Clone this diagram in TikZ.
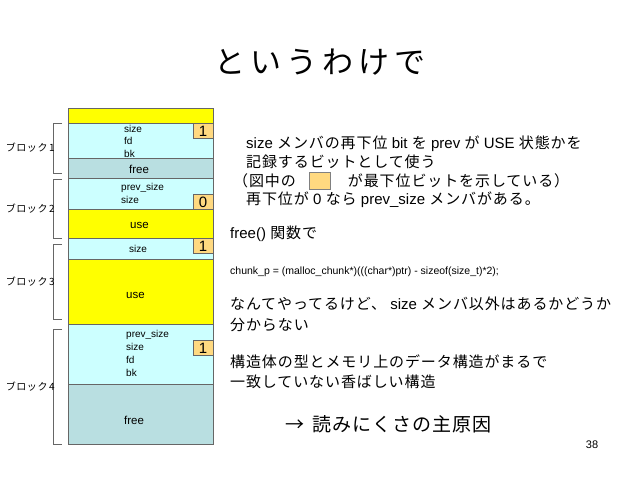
\documentclass[tikz,border=0pt]{standalone}
\usepackage{fontspec}
\setmainfont[LetterSpace=6]{Noto Sans CJK JP}
\newfontfamily\lat{Liberation Sans}
\definecolor{cy}{HTML}{CCFFFF}
\definecolor{fr}{HTML}{B9DFE1}
\definecolor{ye}{HTML}{FFFF00}
\definecolor{bit}{HTML}{FFD980}
\begin{document}
\begin{tikzpicture}[x=1pt,y=-1pt,
  cell/.style={draw=black!60,line width=0.6pt},
  lbl/.style={anchor=west,inner sep=0,font=\lat\fontsize{10}{11}\selectfont},
  big/.style={anchor=west,inner sep=0,font=\fontsize{15}{16}\selectfont},
  brace/.style={draw=black!60,line width=0.6pt},
  blk/.style={anchor=east,inner sep=0,font=\fontsize{10}{11}\selectfont}]
\useasboundingbox (0,0) rectangle (638,478);
\node[font=\fontsize{31}{32}\selectfont] (title) at (320,62) {と\,い\,う\,わ\,け\,で};
% memory column
\filldraw[cell,fill=ye] (68,108) rectangle (213,123);
\filldraw[cell,fill=cy] (68,123) rectangle (213,158);
\filldraw[cell,fill=fr] (68,158) rectangle (213,178);
\filldraw[cell,fill=cy] (68,178) rectangle (213,209);
\filldraw[cell,fill=ye] (68,209) rectangle (213,238);
\filldraw[cell,fill=cy] (68,238) rectangle (213,259);
\filldraw[cell,fill=ye] (68,259) rectangle (213,324);
\filldraw[cell,fill=cy] (68,324) rectangle (213,384);
\filldraw[cell,fill=fr] (68,384) rectangle (213,444);
% bit boxes
\foreach \y/\v in {123/1,194/0,238/1,340/1}{
  \filldraw[cell,fill=bit] (193,\y) rectangle (213,\y+15);
  \node[font=\lat\fontsize{15}{15}\selectfont,inner sep=0] at (203,\y+8) {\v};}
% labels
\node[lbl] (s1) at (124,129) {size};
\node[lbl] (f1) at (124,141) {fd};
\node[lbl] (b1) at (124,154) {bk};
\node[lbl,font=\lat\fontsize{11.5}{12}\selectfont] (fr1) at (129,169) {free};
\node[lbl] (p2) at (121,188) {prev\_size};
\node[lbl] (s2) at (121,200) {size};
\node[lbl,font=\lat\fontsize{11.5}{12}\selectfont] (u2) at (130,225) {use};
\node[lbl] (s3) at (129,249) {size};
\node[lbl,font=\lat\fontsize{11.5}{12}\selectfont] (u3) at (126,295) {use};
\node[lbl] (p4) at (126,335) {prev\_size};
\node[lbl] (s4) at (126,347) {size};
\node[lbl] (f4) at (126,360) {fd};
\node[lbl] (b4) at (126,373) {bk};
\node[lbl,font=\lat\fontsize{11.5}{12}\selectfont] (fr4) at (124,420) {free};
% brackets
\foreach \a/\b/\n in {123/173/1,179/238/2,244/319/3,329/444/4}{
  \draw[brace] (62,\a) -- (53,\a) -- (53,\b) -- (62,\b);
  \node[blk] at (55,{(\a+\b)/2}) {ブロック\,\n};}
% right text
\node[big] (t1) at (246,144) {{\lat size} メンバの再下位 {\lat bit} を {\lat prev} が {\lat USE} 状態かを};
\node[big] (t2) at (246,162) {記録するビットとして使う};
\node[big] (t3) at (233,181) {（図中の\hspace{52pt}が最下位ビットを示している）};
\filldraw[draw=black!50,fill=bit] (309,172) rectangle (330,189);
\node[big] (t4) at (246,200) {再下位が {\lat 0} なら {\lat prev\_size} メンバがある。};
\node[big] (t5) at (230,234) {{\lat free()} 関数で};
\node[anchor=west,inner sep=0,font=\lat\fontsize{10.5}{12}\selectfont] (t6) at (230,272) {chunk\_p = (malloc\_chunk*)(((char*)ptr) - sizeof(size\_t)*2);};
\node[big] (t7) at (230,304) {なんてやってるけど、 {\lat size} メンバ以外はあるかどうか};
\node[big] (t8) at (230,325) {分からない};
\node[big] (t9) at (230,362) {構造体の型とメモリ上のデータ構造がまるで};
\node[big] (t10) at (230,382) {一致していない香ばしい構造};
\node[anchor=west,inner sep=0,font=\fontsize{19}{20}\selectfont] (t11) at (285,424) {→\hspace{8pt}読みにくさの主原因};
\node[font=\lat\fontsize{11}{12}\selectfont] (pg) at (592,445) {38};
\end{tikzpicture}
\end{document}
